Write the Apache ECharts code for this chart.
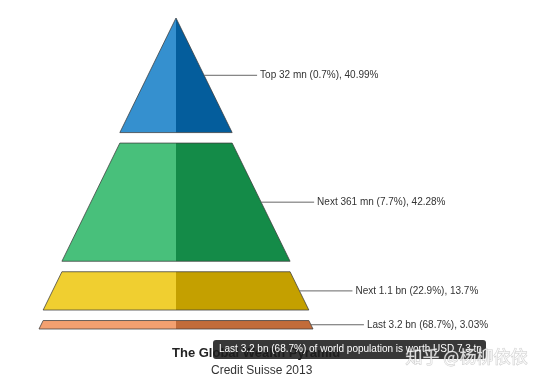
<!DOCTYPE html>
<html>
<head>
<meta charset="utf-8">
<script src="https://cdn.jsdelivr.net/npm/echarts@6/dist/echarts.min.js"></script>
<style>html,body{margin:0;padding:0;background:#fff}#c{width:537px;height:384px}</style>
</head>
<body>
<div id="c"></div>
<script>
const categories = ['Top 32 mn (0.7%)', 'Next 361 mn (7.7%)', 'Next 1.1 bn (22.9%)', 'Last 3.2 bn (68.7%)'];
const wealthShare = [40.99, 42.28, 13.7, 3.03];
const leftColors = ['#3590cf', '#48c07b', '#f0cf30', '#f3a070'];
const rightColors = ['#045d9c', '#148b48', '#c4a000', '#c26c3a'];
const titleText = 'The Global Wealth Pyramid';
const subtitleText = 'Credit Suisse 2013';
const tooltipText = 'Last 3.2 bn (68.7%) of world population is worth USD 7.3 tn.';
const watermarkText = '知乎 @杨柳依依';

const GAP = 3.75;     // vertical gap between layers, in value units
const SLOPE = 1.37;   // half-width per unit of cumulative value
const FONT = 'Liberation Sans, Arial, sans-serif';

const cumStart = [];
let acc = 0;
wealthShare.forEach(v => { cumStart.push(acc); acc += v; });

const chart = echarts.init(document.getElementById('c'), null, {renderer: 'canvas'});

function renderItem(params, api) {
  const i = api.value(0);
  const v = api.value(1);
  const cs = cumStart[i], ce = cs + v;
  const yTop = cs + i * GAP, yBot = ce + i * GAP;
  const c = (p) => api.coord(p);
  const leftPts = [c([-SLOPE * cs, yTop]), c([0, yTop]), c([0, yBot]), c([-SLOPE * ce, yBot])];
  const rightPts = [c([0, yTop]), c([SLOPE * cs, yTop]), c([SLOPE * ce, yBot]), c([0, yBot])];
  const outline = [c([-SLOPE * cs, yTop]), c([SLOPE * cs, yTop]), c([SLOPE * ce, yBot]), c([-SLOPE * ce, yBot])];
  const mid = c([SLOPE * (cs + ce) / 2, (yTop + yBot) / 2]);
  return {
    type: 'group',
    children: [
      {type: 'polygon', shape: {points: leftPts}, style: {fill: leftColors[i], stroke: null}},
      {type: 'polygon', shape: {points: rightPts}, style: {fill: rightColors[i], stroke: null}},
      {type: 'polygon', shape: {points: outline}, style: {fill: null, stroke: 'rgba(60,60,60,0.75)', lineWidth: 1}},
      {type: 'line', shape: {x1: mid[0], y1: mid[1], x2: mid[0] + 53, y2: mid[1]}, style: {stroke: '#666', lineWidth: 1}},
      {type: 'text', x: mid[0] + 56, y: mid[1], style: {
        text: categories[i] + ', ' + v + '%', fill: '#333', font: '10px ' + FONT,
        textVerticalAlign: 'middle', verticalAlign: 'middle', textAlign: 'left'}}
    ]
  };
}

chart.setOption({
  animation: false,
  grid: {left: 0, right: 0, top: 18, bottom: 55},
  xAxis: {type: 'value', min: -176, max: 361, show: false},
  yAxis: {type: 'value', min: 0, max: 100 + 3 * GAP, inverse: true, show: false},
  series: [{
    type: 'custom',
    renderItem: renderItem,
    data: wealthShare.map((v, i) => [i, v]),
    clip: false
  }],
  graphic: [
    {type: 'text', left: 172, top: 347, z: 10, style: {text: titleText, fill: '#222', font: 'bold 13px ' + FONT}},
    {type: 'text', left: 211, top: 365, z: 10, style: {text: subtitleText, fill: '#333', font: '12px ' + FONT}},
    {type: 'rect', left: 213, top: 340, z: 20, shape: {width: 273, height: 19, r: 3}, style: {fill: 'rgba(28,28,28,0.88)'}},
    {type: 'text', left: 219, top: 344, z: 21, style: {text: tooltipText, fill: '#fff', font: '10px ' + FONT}},
    {type: 'text', left: 405, top: 348, z: 30, style: {text: watermarkText, fill: 'rgba(255,255,255,0.8)', stroke: 'rgba(140,140,140,0.45)', lineWidth: 1, font: '17px "Noto Sans CJK SC", sans-serif'}}
  ]
});
</script>
</body>
</html>
